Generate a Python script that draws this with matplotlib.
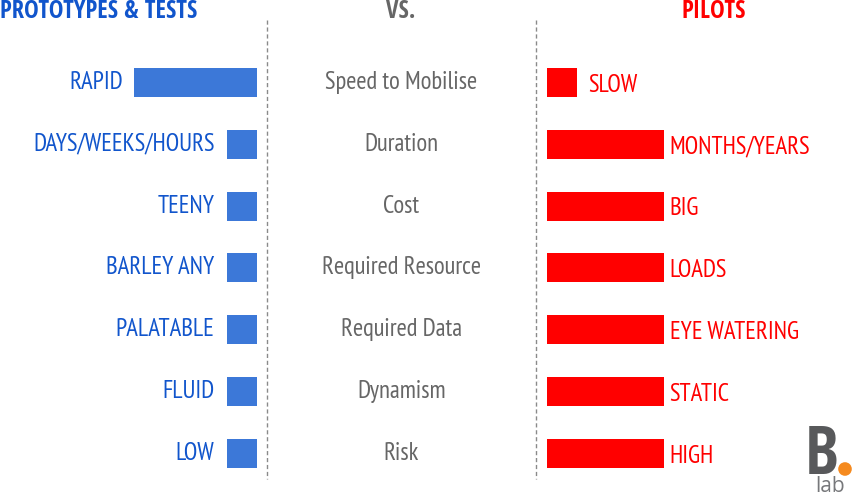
import matplotlib
matplotlib.use('Agg')
from matplotlib import pyplot as plt
from matplotlib.patches import Circle

plt.rcParams['font.family'] = ['PT Sans Narrow', 'DejaVu Sans']
HEAD_FONT = ['Open Sans Condensed', 'DejaVu Sans']

W, H = 854, 496

factors = ['Speed to Mobilise', 'Duration', 'Cost', 'Required Resource', 'Required Data', 'Dynamism', 'Risk']
proto_labels = ['RAPID', 'DAYS/WEEKS/HOURS', 'TEENY', 'BARLEY ANY', 'PALATABLE', 'FLUID', 'LOW']
proto_values = [4.1, 1, 1, 1, 1, 1, 1]
pilot_labels = ['SLOW', 'MONTHS/YEARS', 'BIG', 'LOADS', 'EYE WATERING', 'STATIC', 'HIGH']
pilot_values = [1, 3.9, 3.9, 3.9, 3.9, 3.9, 3.9]

BLUE = '#3c78d8'
BLUE_TEXT = '#1155cc'
RED = '#ff0000'
GREY = '#666666'
FS = 17.7

fig = plt.figure(figsize=(W/100, H/100), dpi=100)

def px_axes(x0, x1, y0=0, y1=H):
    return fig.add_axes([x0/W, 1-y1/H, (x1-x0)/W, (y1-y0)/H])

rows = range(len(factors))
row_h = 61.8
top = 82.5 - row_h/2

# left bars, growing leftwards from 257 at 30px per unit
ax_l = px_axes(0, 257, top, top + row_h*7)
ax_l.barh(list(rows), proto_values, height=0.47, color=BLUE)
ax_l.set_xlim(257/30, 0)
ax_l.set_ylim(6.5, -0.5)
ax_l.axis('off')
for i in rows:
    gap = 11 if proto_values[i] > 2 else 12.5
    ax_l.annotate(proto_labels[i], (proto_values[i], i), xytext=(-gap*0.72, 0),
                  textcoords='offset points', ha='right', va='center',
                  fontsize=FS, color=BLUE_TEXT)

# right bars
ax_r = px_axes(547, 854, top, top + row_h*7)
ax_r.barh(list(rows), pilot_values, height=0.47, color=RED)
ax_r.set_xlim(0, 307/30)
ax_r.set_ylim(6.5, -0.5)
ax_r.axis('off')
for i in rows:
    gap = 11 if pilot_values[i] < 2 else 5.5
    ax_r.annotate(pilot_labels[i], (pilot_values[i], i), xytext=(gap*0.72, -2),
                  textcoords='offset points', ha='left', va='center',
                  fontsize=FS, color=RED)

# middle column and overlay
bg = px_axes(0, W)
bg.set_xlim(0, W)
bg.set_ylim(H, 0)
bg.axis('off')
bg.patch.set_alpha(0)
for i in rows:
    bg.text(401.5, top + row_h*(i+0.5), factors[i], ha='center', va='center',
            fontsize=FS, color=GREY)

for x in (267.5, 536.5):
    bg.plot([x, x], [20, 479], color='#8a8a8a', lw=1, ls=(0, (3, 2)))

bg.text(0, 11, 'PROTOTYPES & TESTS', ha='left', va='center', fontsize=17.8, fontweight='bold', color=BLUE_TEXT, family=HEAD_FONT)
bg.text(401, 11, 'VS.', ha='center', va='center', fontsize=17.8, fontweight='bold', color=GREY, family=HEAD_FONT)
bg.text(714, 11, 'PILOTS', ha='center', va='center', fontsize=17.8, fontweight='bold', color=RED, family=HEAD_FONT)

# logo
bg.text(822, 457, 'B', ha='center', va='center', fontsize=48, fontweight='bold', color='#58595b', family=HEAD_FONT)
bg.add_patch(Circle((845, 469), 6.8, color='#f58a1f', lw=0))
bg.text(830, 486, 'lab', ha='center', va='center', fontsize=15, color='#77787b',
        family=['Open Sans', 'DejaVu Sans'])

fig.savefig('out.png', dpi=100)
